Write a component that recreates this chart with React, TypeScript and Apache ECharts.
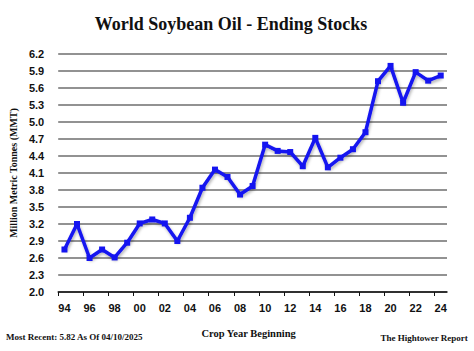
import React, { useEffect, useRef } from "react";
import * as echarts from "echarts";

const years = [
  "94", "95", "96", "97", "98", "99", "00", "01", "02", "03", "04", "05", "06", "07", "08", "09",
  "10", "11", "12", "13", "14", "15", "16", "17", "18", "19", "20", "21", "22", "23", "24",
];
const endingStocks = [
  2.75, 3.2, 2.6, 2.75, 2.61, 2.87, 3.21, 3.28, 3.21, 2.9, 3.31, 3.84, 4.16, 4.03, 3.72, 3.87,
  4.6, 4.49, 4.47, 4.22, 4.72, 4.2, 4.37, 4.52, 4.82, 5.72, 5.99, 5.34, 5.88, 5.73, 5.82,
];
const yMin = 2.0;
const yMax = 6.2;
const yStep = 0.3;

const serif = "'Liberation Serif', 'DejaVu Serif', serif";
const sans = "'Liberation Sans', 'DejaVu Sans', sans-serif";

export default function App() {
  const ref = useRef<HTMLDivElement>(null);
  useEffect(() => {
    if (!ref.current) return;
    const chart = echarts.init(ref.current, null, { renderer: "svg" });
    chart.setOption({
      animation: false,
      backgroundColor: "#ffffff",
      title: {
        text: "World Soybean Oil - Ending Stocks",
        left: 226,
        textAlign: "center",
        top: 10,
        textStyle: { fontFamily: serif, fontWeight: "bold", fontSize: 18, color: "#111" },
      },
      grid: { left: 54, right: 27, top: 54, bottom: 59 },
      xAxis: {
        type: "category",
        data: years,
        boundaryGap: true,
        name: "Crop Year Beginning",
        nameLocation: "middle",
        nameGap: 36,
        nameTextStyle: { fontFamily: serif, fontWeight: "bold", fontSize: 10.5, color: "#111", padding: [0, 8, 0, 0] },
        axisLine: { show: true, lineStyle: { color: "#111", width: 1.5 } },
        axisTick: { show: true, inside: false, length: 4, lineStyle: { color: "#111", width: 1 } },
        axisLabel: {
          interval: 1,
          margin: 10,
          fontFamily: sans,
          fontWeight: "bold",
          fontSize: 11,
          color: "#111",
        },
        splitLine: { show: false },
      },
      yAxis: {
        type: "value",
        min: yMin,
        max: yMax,
        interval: yStep,
        name: "Million Metric Tonnes (MMT)",
        nameLocation: "middle",
        nameGap: 38,
        nameTextStyle: { fontFamily: serif, fontWeight: "bold", fontSize: 10, color: "#111" },
        axisLine: { show: false },
        axisTick: { show: false },
        axisLabel: {
          margin: 14,
          fontFamily: sans,
          fontWeight: "bold",
          fontSize: 11,
          color: "#111",
          formatter: (v: number) => v.toFixed(1),
        },
        splitLine: { show: true, lineStyle: { color: "#6e6e6e", width: 1.5 } },
      },
      graphic: [
        {
          type: "text",
          left: 6,
          top: 332,
          style: {
            text: "Most Recent: 5.82 As Of 04/10/2025",
            font: `bold 9px ${serif}`,
            fill: "#111",
          },
        },
        {
          type: "text",
          right: 6,
          top: 333,
          style: {
            text: "The Hightower Report",
            font: `bold 9px ${serif}`,
            fill: "#111",
          },
        },
      ],
      series: [
        {
          type: "line",
          data: endingStocks,
          symbol: "rect",
          symbolSize: 6,
          itemStyle: { color: "#1414f0" },
          lineStyle: {
            color: "#1414f0",
            width: 3.5,
            shadowColor: "rgba(0,0,0,0.3)",
            shadowBlur: 3,
            shadowOffsetX: 1,
            shadowOffsetY: 2,
          },
        },
      ],
    });
    return () => chart.dispose();
  }, []);
  return (
    <div
      ref={ref}
      style={{ position: "fixed", left: 0, top: 0, width: 474, height: 351 }}
    />
  );
}
